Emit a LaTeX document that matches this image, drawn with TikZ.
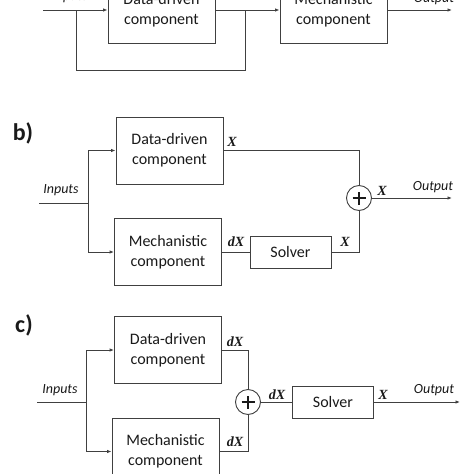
\documentclass[tikz,border=0pt]{standalone}
\usepackage{fontspec}
\setmainfont{Carlito}
\newfontfamily\seriflbl{Liberation Serif}
\usetikzlibrary{arrows.meta}
\definecolor{ln}{HTML}{404040}
\definecolor{tx}{HTML}{1A1A1A}
\begin{document}
\begin{tikzpicture}[x=1pt,y=-1pt,
  conn/.style={draw=ln, line width=0.9pt},
  arr/.style={conn, -{Latex[length=4.5pt,width=3.5pt]}},
  compbox/.style={draw=ln, line width=0.9pt, minimum width=107pt, minimum height=67pt, inner sep=0pt, align=center, text=tx, font=\fontsize{16}{20}\selectfont},
  solverbox/.style={draw=ln, line width=0.9pt, minimum width=81pt, minimum height=32pt, inner sep=0pt, text=tx, font=\fontsize{16}{20}\selectfont},
  sumnode/.style={circle, draw=ln, line width=0.9pt, minimum size=25pt, inner sep=0pt,
    path picture={\draw[tx, line width=1.6pt] ([xshift=-6.5pt]path picture bounding box.center) -- ([xshift=6.5pt]path picture bounding box.center);
                  \draw[tx, line width=1.6pt] ([yshift=-6.5pt]path picture bounding box.center) -- ([yshift=6.5pt]path picture bounding box.center);}},
  io/.style={text=tx, inner sep=0pt, font=\itshape\fontsize{14}{16}\selectfont},
  var/.style={text=tx, inner sep=0pt, font=\seriflbl\bfseries\itshape\fontsize{14}{16}\selectfont},
  panel/.style={text=tx, inner sep=0pt, font=\bfseries\fontsize{24}{28}\selectfont}
]
\fill[white] (0,0) rectangle (474,474);
\useasboundingbox (0,0) rectangle (474,474);

% ---------- panel a ----------
\coordinate (ain) at (43,10);
\coordinate (abr) at (76,10);
\coordinate (afb1) at (76,70);
\coordinate (afb2) at (245,70);
\coordinate (aj) at (245,10);
\coordinate (aout) at (452,10);
\node[compbox] (add) at (161.5,10) {Data-driven\\component};
\node[compbox] (amech) at (333.5,10) {Mechanistic\\component};
\draw[arr] (ain) -- (add.west);
\draw[conn] (abr) -- (afb1) -- (afb2) -- (aj);
\draw[arr] (add.east) -- (amech.west);
\draw[arr] (amech.east) -- (aout);
\node[io] (ainl) at (70,-3) {Inputs};
\node[io] (aoutl) at (434,-1) {Output};

% ---------- panel b ----------
\node[panel] (blab) at (23,133) {b)};
\coordinate (bin) at (39,203);
\coordinate (bbr) at (88,203);
\coordinate (bout) at (452,198);
\node[compbox] (bdd) at (169.5,150.5) {Data-driven\\component};
\node[compbox] (bmech) at (168,252) {Mechanistic\\component};
\node[solverbox] (bsol) at (290.5,252) {Solver};
\node[sumnode] (bsum) at (359,198) {};
\draw[conn] (bin) -- (bbr);
\draw[arr] (bbr) |- (bdd.west);
\draw[arr] (bbr) |- (bmech.west);
\draw[conn] (bdd.east) -| (bsum.north);
\draw[conn] (bmech.east) -- (bsol.west);
\draw[conn] (bsol.east) -| (bsum.south);
\draw[arr] (bsum.east) -- (bout);
\node[io] (binl) at (61,190) {Inputs};
\node[io] (boutl) at (433,187) {Output};
\node[var] (bx1) at (232,142) {X};
\node[var] (bdx) at (236,242) {dX};
\node[var] (bx2) at (345,242) {X};
\node[var] (bx3) at (382,191) {X};

% ---------- panel c ----------
\node[panel] (clab) at (24,325) {c)};
\coordinate (cin) at (37,402);
\coordinate (cbr) at (86,402);
\coordinate (cout) at (460,402);
\node[compbox] (cdd) at (168,350) {Data-driven\\component};
\node[compbox] (cmech) at (165.5,451.5) {Mechanistic\\component};
\node[sumnode] (csum) at (248,402) {};
\node[solverbox] (csol) at (333,402) {Solver};
\draw[conn] (cin) -- (cbr);
\draw[arr] (cbr) |- (cdd.west);
\draw[arr] (cbr) |- (cmech.west);
\draw[conn] (cdd.east) -| (csum.north);
\draw[conn] (cmech.east) -| (csum.south);
\draw[conn] (csum.east) -- (csol.west);
\draw[arr] (csol.east) -- (cout);
\node[io] (cinl) at (60,390) {Inputs};
\node[io] (coutl) at (434,390) {Output};
\node[var] (cdx1) at (235,342) {dX};
\node[var] (cdx2) at (235,442) {dX};
\node[var] (cdx3) at (277,395) {dX};
\node[var] (cx) at (383,395) {X};
\end{tikzpicture}
\end{document}
